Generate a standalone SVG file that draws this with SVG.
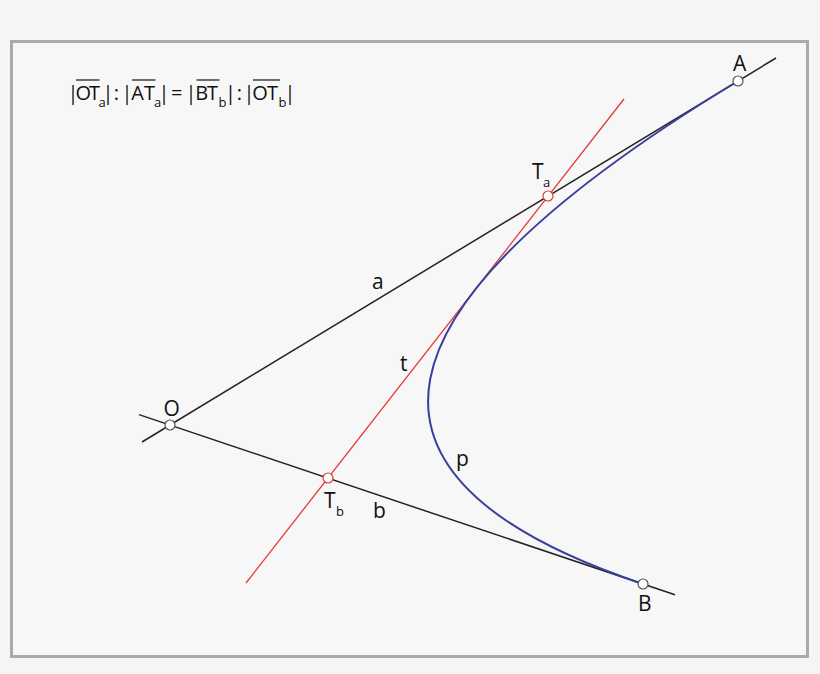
<svg xmlns="http://www.w3.org/2000/svg" width="820" height="674" viewBox="0 0 820 674">
<style>
text{font-family:"Open Sans","Liberation Sans",sans-serif;fill:#111;}
.lbl{font-size:21px;}
.f{font-size:20px;text-anchor:middle;}
.fs{font-size:13px;text-anchor:middle;}
.sub{font-size:13px;}
.blk{stroke:#222;stroke-width:1.5;fill:none;}
.red{stroke:#e5393a;stroke-width:1.3;fill:none;}
.blu{stroke:#3a3f9c;stroke-width:2;fill:none;}
.pt{fill:#fff;stroke:#555;stroke-width:1.2;}
.ptr{fill:#fff;stroke:#e5393a;stroke-width:1.2;}
.ovl{stroke:#111;stroke-width:1.2;}
</style>
<rect x="0" y="0" width="820" height="674" fill="#f5f5f5"/>
<rect x="11.5" y="41.5" width="796" height="615" fill="#f7f7f7" stroke="#aaa" stroke-width="3"/>
<g id="formula">
<text class="f" x="73" y="100">|</text>
<text class="f" x="83.3" y="100">O</text>
<text class="f" x="94.5" y="100">T</text>
<text class="fs" x="102" y="107">a</text>
<text class="f" x="108" y="100">|</text>
<text class="f" x="116.5" y="100">:</text>
<text class="f" x="127" y="100">|</text>
<text class="f" x="137.5" y="100">A</text>
<text class="f" x="149.5" y="100">T</text>
<text class="fs" x="157.5" y="107">a</text>
<text class="f" x="164" y="100">|</text>
<text class="f" x="176.7" y="100">=</text>
<text class="f" x="191" y="100">|</text>
<text class="f" x="201.7" y="100">B</text>
<text class="f" x="212.5" y="100">T</text>
<text class="fs" x="222.5" y="107">b</text>
<text class="f" x="230.5" y="100">|</text>
<text class="f" x="239.3" y="100">:</text>
<text class="f" x="249" y="100">|</text>
<text class="f" x="260" y="100">O</text>
<text class="f" x="272.5" y="100">T</text>
<text class="fs" x="282.5" y="107">b</text>
<text class="f" x="290" y="100">|</text>
<line class="ovl" x1="76" y1="80" x2="99.5" y2="80"/>
<line class="ovl" x1="132" y1="80" x2="155.5" y2="80"/>
<line class="ovl" x1="196.5" y1="80" x2="219.5" y2="80"/>
<line class="ovl" x1="253" y1="80" x2="280" y2="80"/>
</g>
<g id="connectors">
<line id="line-a" class="blk" x1="142" y1="442" x2="776" y2="58"/>
<line id="line-b" class="blk" x1="139" y1="414.6" x2="675" y2="594.8"/>
<line id="line-t" class="red" x1="246" y1="583" x2="624" y2="99"/>
<path id="parabola-p" class="blu" d="M738,81 Q170,425 643,584"/>
</g>
<g id="node-A"><circle class="pt" cx="738" cy="81" r="5"/><text class="lbl" x="733" y="71">A</text></g>
<g id="node-B"><circle class="pt" cx="643" cy="584" r="5"/><text class="lbl" x="638" y="611">B</text></g>
<g id="node-O"><circle class="pt" cx="170" cy="425" r="5"/><text class="lbl" x="163.5" y="416">O</text></g>
<g id="node-Ta"><circle class="ptr" cx="548" cy="196" r="5"/><text class="lbl" x="532" y="179">T<tspan class="sub" x="543" y="187">a</tspan></text></g>
<g id="node-Tb"><circle class="ptr" cx="328" cy="478" r="5"/><text class="lbl" x="324" y="508">T<tspan class="sub" x="336" y="516">b</tspan></text></g>
<g id="labels">
<text class="lbl" x="372" y="289">a</text>
<text class="lbl" x="400" y="371">t</text>
<text class="lbl" x="456" y="466">p</text>
<text class="lbl" x="373" y="518">b</text>
</g>
</svg>
